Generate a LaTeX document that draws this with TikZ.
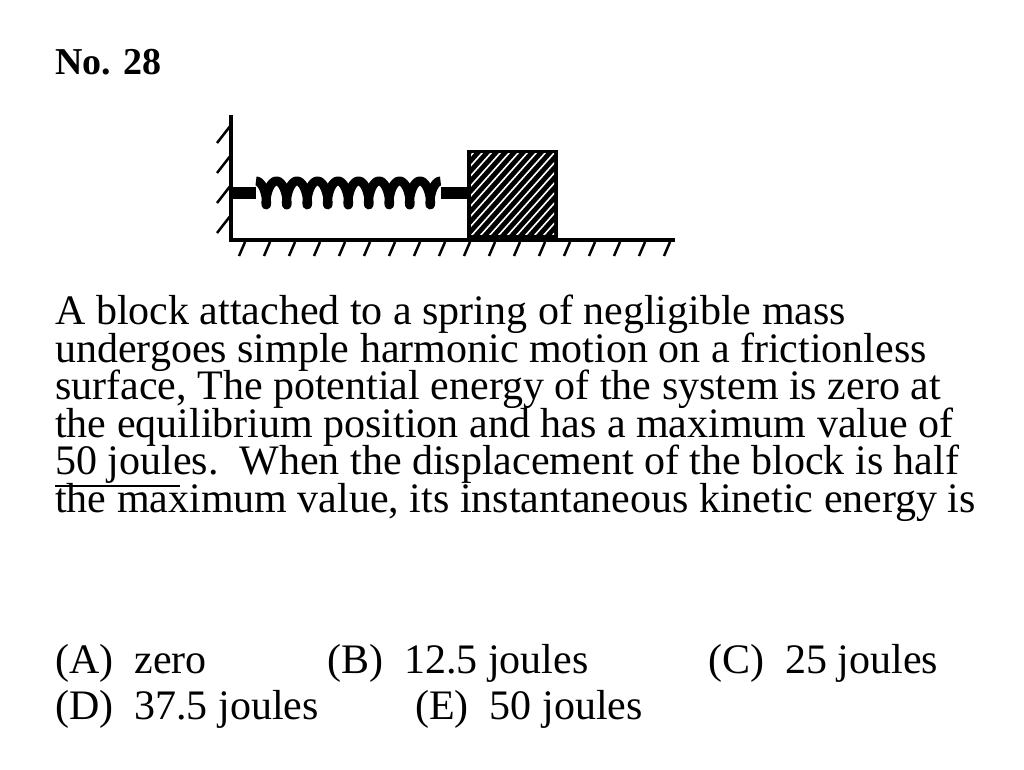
\documentclass[tikz,border=0pt]{standalone}
\usepackage{fontspec}
\setmainfont{Liberation Serif}
\begin{document}
\begin{tikzpicture}[x=1pt,y=-1pt,
  txt/.style={anchor=base west,inner sep=0pt,font=\fontsize{42}{40}\selectfont},
  thk/.style={line width=4pt}]
\useasboundingbox (0,0) rectangle (1024,770);
\node[txt,font=\fontsize{38}{40}\selectfont\bfseries] (no) at (55,75) {No. 28};
% wall and floor
\coordinate (wt) at (231,115); \coordinate (wb) at (231,240);
\coordinate (fr) at (675,240);
\draw[thk] (wt) -- (wb) -- (fr);
\foreach \y in {125,155,185,215} \draw[line width=2.5pt] (231,\y) -- (217,\y+18);
\foreach \x in {245,270,...,670} \draw[line width=2.5pt] (\x,242) -- (\x-6,256);
% block
\node[fill=black,minimum width=91pt,minimum height=88pt,inner sep=0pt,anchor=south west] (blk) at (467,238) {};
\begin{scope}
\clip (471,154) rectangle (554,234);
\foreach \i in {-8,...,10} \draw[white,line width=1.6pt] ({471+\i*9},236) -- ({471+\i*9+75},152);
\end{scope}
% spring
\coordinate (s0) at (231,193);
\coordinate (s1) at (256,193);
\coordinate (s2) at (441,193);
\draw[line width=12pt] (s0) -- (s1);
\draw[line width=9pt,line join=round] plot[domain=0:3240,samples=400,smooth] ({256+\x/360*20.5+4*sin(\x)},{193-12*sin(\x+90)});
\draw[line width=12pt] (s2) -- (blk.west |- s2);
% text
\node[txt] (l1) at (55,324) {A block attached to a spring of negligible mass};
\node[txt] (l2) at (55,362) {undergoes simple harmonic motion on a frictionless};
\node[txt] (l3) at (55,399) {surface, The potential energy of the system is zero at};
\node[txt] (l4) at (55,437) {the equilibrium position and has a maximum value of};
\node[txt] (l5) at (55,474) {50 joules.\ \ When the displacement of the block is half};
\node[txt] (l6) at (55,512) {the maximum value, its instantaneous kinetic energy is};
\draw[line width=1.5pt] (55,486) -- (180,486);
\node[txt] (a) at (55,673) {(A)\ \ zero};
\node[txt] (b) at (327,673) {(B)\ \ 12.5 joules};
\node[txt] (c) at (708,673) {(C)\ \ 25 joules};
\node[txt] (d) at (55,719) {(D)\ \ 37.5 joules};
\node[txt] (e) at (415,719) {(E)\ \ 50 joules};
\end{tikzpicture}
\end{document}
